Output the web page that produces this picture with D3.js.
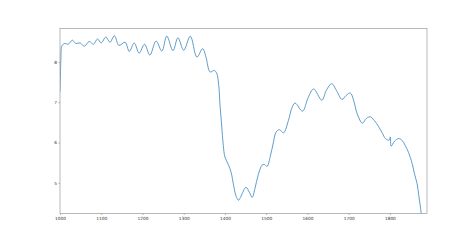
<!DOCTYPE html>
<html>
<head>
<meta charset="utf-8">
<script src="https://cdn.jsdelivr.net/npm/d3@7"></script>
<style>
  body { margin: 0; background: #fff; }
  svg { display: block; }
  .tick text { font-family: "DejaVu Sans", sans-serif; fill: #333; }
</style>
</head>
<body>
<script>
// values
var xs = [1000, 1002, 1004, 1007, 1012, 1020, 1030, 1038, 1049, 1059, 1071, 1081, 1091, 1100,
  1111, 1121, 1132, 1143, 1158, 1168, 1180, 1192, 1205, 1218, 1233, 1247, 1259, 1274, 1286,
  1300, 1316, 1332, 1346, 1354, 1364, 1374, 1380, 1385, 1388, 1392, 1396, 1400, 1408, 1415,
  1421, 1427, 1433, 1439, 1451, 1459, 1466, 1473, 1481, 1490, 1495, 1502, 1510, 1517, 1524,
  1532, 1542, 1554, 1562, 1570, 1588, 1602, 1615, 1635, 1646, 1659, 1670, 1684, 1694, 1704,
  1712, 1718, 1724, 1733, 1743, 1752, 1762, 1773, 1782, 1789, 1798, 1801, 1803, 1811, 1821,
  1830, 1837, 1845, 1854, 1860, 1866, 1870, 1874, 1877];
var ys = [7.26, 8.04, 8.39, 8.43, 8.46, 8.44, 8.54, 8.46, 8.47, 8.39, 8.51, 8.44, 8.57, 8.47,
  8.62, 8.49, 8.65, 8.41, 8.49, 8.26, 8.47, 8.22, 8.44, 8.17, 8.52, 8.27, 8.64, 8.28, 8.60,
  8.29, 8.64, 8.12, 8.33, 8.12, 7.75, 7.79, 7.72, 7.42, 6.93, 6.43, 5.93, 5.64, 5.46, 5.26,
  4.94, 4.67, 4.57, 4.67, 4.89, 4.77, 4.64, 4.87, 5.21, 5.44, 5.46, 5.41, 5.66, 5.98, 6.26,
  6.32, 6.24, 6.55, 6.85, 6.98, 6.78, 7.12, 7.33, 7.05, 7.30, 7.46, 7.30, 7.07, 7.17, 7.23,
  7.05, 6.80, 6.63, 6.48, 6.60, 6.64, 6.55, 6.39, 6.23, 6.10, 6.06, 6.14, 5.91, 6.03, 6.10,
  6.05, 5.93, 5.76, 5.48, 5.21, 4.98, 4.69, 4.40, 4.15];
var xTicks = [1000, 1100, 1200, 1300, 1400, 1500, 1600, 1700, 1800];
var yTicks = [5, 6, 7, 8];
var xLim = [1000, 1890];
var yLim = [4.24, 8.83];

var W = 474, H = 240;
var margin = { top: 28.5, right: 47, bottom: 26.5, left: 60 };
var width = W - margin.left - margin.right;
var height = H - margin.top - margin.bottom;

var svg = d3.select("body").append("svg")
  .attr("width", W)
  .attr("height", H);

var data = xs.map(function(d, i) { return { x: d, y: ys[i] }; });

var x = d3.scaleLinear().domain(xLim).range([0, width]);
var y = d3.scaleLinear().domain(yLim).range([height, 0]);

var group = svg.append("g")
  .attr("transform", "translate(" + margin.left + "," + margin.top + ")");

group.append("clipPath").attr("id", "clip")
  .append("rect").attr("width", width).attr("height", height);

var line = d3.line()
  .x(function(d) { return x(d.x); })
  .y(function(d) { return y(d.y); })
  .curve(d3.curveCatmullRom.alpha(0.5));

group.append("path")
  .datum(data)
  .attr("clip-path", "url(#clip)")
  .attr("fill", "none")
  .attr("stroke", "#3a84ba")
  .attr("stroke-width", 0.8)
  .attr("d", line);

var xAxis = group.append("g")
  .attr("transform", "translate(0," + height + ")")
  .call(d3.axisBottom(x).tickValues(xTicks).tickSize(1.5).tickPadding(1.5).tickFormat(d3.format("d")));

var yAxis = group.append("g")
  .call(d3.axisLeft(y).tickValues(yTicks).tickSize(1.5).tickPadding(1.5).tickFormat(d3.format("d")));

[xAxis, yAxis].forEach(function(a) {
  a.select(".domain").remove();
  a.selectAll("line").attr("stroke", "#444").attr("stroke-width", 0.4);
  a.selectAll("text").style("font-size", "4.3px");
});

// frame
group.append("rect")
  .attr("width", width)
  .attr("height", height)
  .attr("fill", "none")
  .attr("stroke", "#9a9a9a")
  .attr("stroke-width", 0.7);
</script>
</body>
</html>
